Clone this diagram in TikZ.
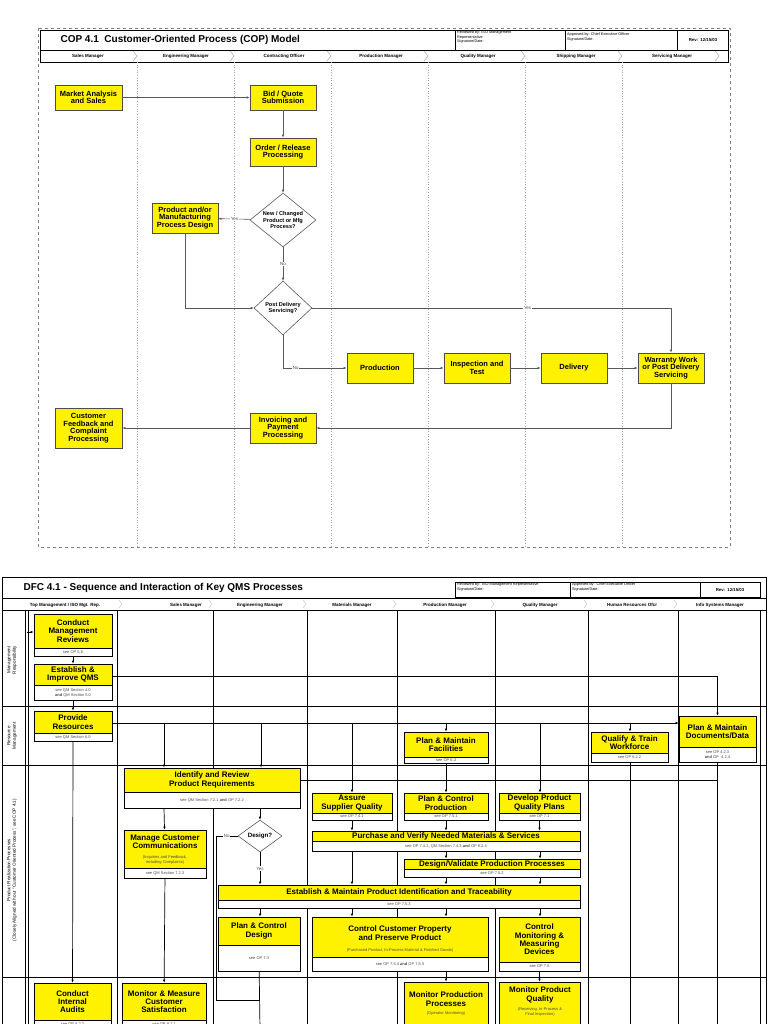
\documentclass[tikz,border=0pt]{standalone}
\usepackage{fontspec}
\setmainfont{Liberation Sans}
\usetikzlibrary{fit,shapes.geometric,arrows.meta}
\tikzset{
 yb/.style={fit={#1},inner sep=0pt,fill=yellow,draw=black,line width=.7pt},
 wb/.style={fit={#1},inner sep=0pt,fill=white,draw=black,line width=.7pt},
 tt/.style={font=\bfseries\fontsize{8}{8.3}\selectfont,align=center,inner sep=0pt},
 ts/.style={font=\fontsize{4}{5}\selectfont,align=center,inner sep=0pt,text=black!70},
 tb/.style={font=\bfseries\fontsize{7.5}{7.6}\selectfont,align=center,inner sep=0pt},
 lab/.style={font=\fontsize{4.5}{5}\selectfont,inner sep=0.6pt,fill=white,text=black!70},
 hd/.style={font=\bfseries\fontsize{4.5}{5}\selectfont,inner sep=0pt},
 arr/.style={-{Latex[length=3pt,width=2.5pt]},line width=.7pt},
 garr/.style={-{Latex[length=3pt,width=2.5pt]},line width=.6pt,draw=black!65},
 lane/.style={line width=.8pt},
 dia/.style={diamond,draw=black!65,fill=white,inner sep=0pt,line width=.6pt},
 cbox/.style={fit={#1},inner sep=0pt,fill=yellow,draw=black!70,line width=.7pt},
}
\newcommand\qb[8]{%
 \node[yb={(#2,#3) (#5,#4)}] (#1) {};
 \node[wb={(#2,#4) (#5,#6)}] (#1s) {};
 \node[tt] at (#1) {#7};
 \node[ts] at (#1s) {#8};}
\begin{document}
\begin{tikzpicture}[x=1pt,y=-1pt]
\path[use as bounding box,fill=white] (0,0) rectangle (768,1024);
% ================= TOP =================
\draw[black!50,dashed,line width=.5pt] (38,28) rectangle (730,547);
\draw[line width=.6pt] (40,30) rectangle (728,62);
\draw[line width=.5pt] (40,50) -- (728,50);
\node[anchor=west,font=\bfseries\fontsize{10}{12}\selectfont] (t1) at (57,40) {COP 4.1\ \ Customer-Oriented Process (COP) Model};
\draw[line width=.5pt] (455,30) rectangle (565,50) (565,30) rectangle (677,50);
\node[anchor=north west,font=\fontsize{3.8}{4.4}\selectfont,align=left,inner sep=0pt] (r1) at (457,31) {Reviewed by: ISO Management\\Representative\\Signature/Date:};
\node[anchor=north west,font=\fontsize{3.8}{4.4}\selectfont,align=left,inner sep=0pt] (r2) at (567,33) {Approved by: Chief Executive Officer\\Signature/Date:};
\node[font=\bfseries\fontsize{4.3}{5}\selectfont] (r3) at (703,40) {Rev:\ \ 12/15/03};
\foreach \x/\t in {88/Sales Manager,186/Engineering Manager,284/Contracting Officer,381/Production Manager,478/Quality Manager,576/Shipping Manager,672/Servicing Manager}
  \node[hd] at (\x,56) {\t};
\foreach \x in {137,234,331,428,525,622,719}{
  \draw[black!40,line width=.4pt] (\x-4,51) -- (\x,56) -- (\x-4,61);
  \node[font=\fontsize{3}{3}\selectfont,text=black!50] at (\x-10,57) {.};}
\foreach \x in {137,234,331,428,525,622}
  \draw[black!35,dotted,line width=.6pt] (\x,62) -- (\x,547);
\node[cbox={(55,85) (122,110)}] (ma) {}; \node[tb] at (ma) {Market Analysis\\and Sales};
\node[cbox={(250,85) (316,110)}] (bid) {}; \node[tb] at (bid) {Bid / Quote\\Submission};
\node[cbox={(250,138) (316,166)}] (ord) {}; \node[tb] at (ord) {Order / Release\\Processing};
\node[cbox={(152,203) (218,233)}] (pd) {}; \node[tb] at (pd) {Product and/or\\Manufacturing\\Process Design};
\node[cbox={(347,353) (413,383)}] (prod) {}; \node[tb] at (prod) {Production};
\node[cbox={(444,353) (510,383)}] (insp) {}; \node[tb] at (insp) {Inspection and\\Test};
\node[cbox={(541,353) (607,383)}] (del) {}; \node[tb] at (del) {Delivery};
\node[cbox={(638,353) (704,383)}] (war) {}; \node[tb] at (war) {Warranty Work\\or Post Delivery\\Servicing};
\node[cbox={(250,413) (316,443)}] (inv) {}; \node[tb] at (inv) {Invoicing and\\Payment\\Processing};
\node[cbox={(55,408) (122,448)}] (cf) {}; \node[tb] at (cf) {Customer\\Feedback and\\Complaint\\Processing};
\node[dia,minimum width=66pt,minimum height=54pt] (d1) at (283,220) {};
\node[font=\bfseries\fontsize{5.6}{6.4}\selectfont,align=center,inner sep=0pt] at (d1) {New / Changed\\Product or Mfg\\Process?};
\node[dia,minimum width=58pt,minimum height=54pt] (d2) at (283,308) {};
\node[font=\bfseries\fontsize{5.6}{6.4}\selectfont,align=center,inner sep=0pt] at (d2) {Post Delivery\\Servicing?};
\draw[garr] (ma) -- (bid);
\draw[garr] (bid) -- (ord);
\draw[garr] (ord) -- (d1);
\draw[garr] (d1) -- node[lab]{Yes} (pd);
\draw[garr] (d1) -- node[lab]{No} (d2);
\draw[garr] (pd.south) |- (d2.west);
\draw[garr] (d2.east) -- node[lab,pos=.6]{Yes} (war.north |- d2.east) -- (war.north);
\draw[garr] (d2.south) |- node[lab,pos=.6]{No} (prod.west);
\draw[garr] (prod) -- (insp);
\draw[garr] (insp) -- (del);
\draw[garr] (del) -- (war);
\draw[garr] (war.south) |- (inv.east);
\draw[garr] (inv) -- (cf);
% ================= BOTTOM =================
\draw[line width=.8pt] (2,577) rectangle (766,1030);
\draw[line width=.6pt] (2,598) -- (766,598);
\node[anchor=west,font=\bfseries\fontsize{10}{12}\selectfont] (t2) at (20,588) {DFC 4.1 - Sequence and Interaction of Key QMS Processes};
\draw[line width=.5pt] (455,582) rectangle (570,597) (570,582) rectangle (700,597) (700,582) rectangle (760,597);
\node[anchor=north west,font=\fontsize{3.8}{4.8}\selectfont,align=left,inner sep=0pt] at (457,583) {Reviewed by:\ \ ISO Management Representative\\Signature/Date:};
\node[anchor=north west,font=\fontsize{3.8}{4.8}\selectfont,align=left,inner sep=0pt] at (572,583) {Approved by:\ \ Chief Executive Officer\\Signature/Date:};
\node[font=\bfseries\fontsize{4.3}{5}\selectfont] at (730,590) {Rev:\ \ 12/15/03};
\foreach \x/\t in {65/{Top Management / ISO Mgt. Rep.},186/Sales Manager,260/Engineering Manager,352/Materials Manager,445/Production Manager,540/Quality Manager,632/Human Resources Ofcr,720/Info Systems Manager}
  \node[hd] at (\x,605) {\t};
\foreach \x in {122,212,306,396,494,587,677}
  \draw[black!25,line width=.4pt] (\x-3,600) -- (\x,604) -- (\x-3,608);
\draw[line width=.8pt] (2,610) -- (766,610);
\foreach \y in {706,765,977} \draw[lane] (2,\y) -- (766,\y);
\draw[lane] (25,610) -- (25,1030);
\draw[lane] (28,610) -- (28,1030);
\foreach \x in {117,213,307,397,495,588,678,760} \draw[lane] (\x,610) -- (\x,1030);
\node[rotate=90,font=\fontsize{4.6}{5.6}\selectfont,align=center] at (12,660) {Management\\Responsibility};
\node[rotate=90,font=\fontsize{4.6}{5.6}\selectfont,align=center] at (12,736) {Resource\\Management};
\node[rotate=90,font=\fontsize{4.6}{5.6}\selectfont,align=center] at (12,870) {Product Realization Processes\\(Closely Aligned with our ``Customer Oriented Process'', see COP 4.1)};
% boxes
\qb{cmr}{34}{614}{648}{112}{656}{Conduct\\Management\\Reviews}{see OP 5.6}
\qb{emq}{34}{664}{685}{112}{700}{Establish \&\\Improve QMS}{see QM Section 4.0\\\textbf{and} QM Section 5.0}
\qb{pr}{34}{711}{733}{112}{741}{Provide\\Resources}{see QM Section 6.0}
\qb{irp}{124}{768}{792}{300}{808}{Identify and Review\\Product Requirements}{see QM Section 7.2.1 \textbf{and} OP 7.2.2}
\node[yb={(124,830) (206,868)}] (mcc) {};
\node[wb={(124,868) (206,878)}] (mccs) {};
\node[tt] at (165,842) {Manage Customer\\Communications};
\node[ts] at (165,860) {(Inquiries and Feedback,\\including Complaints)};
\node[ts] at (mccs) {see QM Section 7.2.3};
\node[dia,minimum width=44pt,minimum height=32pt] (des) at (260,836) {};
\node[font=\bfseries\fontsize{6.2}{7}\selectfont,inner sep=0pt] at (des) {Design?};
\qb{emp}{218}{885}{900}{580}{908}{Establish \& Maintain Product Identification and Traceability}{see OP 7.5.3}
\qb{pcd}{218}{917}{945}{300}{971}{Plan \& Control\\Design}{see OP 7.3}
\qb{asq}{312}{793}{813}{392}{820}{Assure\\Supplier Quality}{see OP 7.4.1}
\qb{pcp}{404}{793}{813}{488}{820}{Plan \& Control\\Production}{see OP 7.5.1}
\qb{dpq}{499}{793}{813}{580}{820}{Develop Product\\Quality Plans}{see OP 7.1}
\qb{pvm}{312}{831}{841}{580}{851}{Purchase and Verify Needed Materials \& Services}{see OP 7.4.2, QM Section 7.4.3 \textbf{and} OP 8.2.4}
\qb{dvp}{404}{859}{869}{580}{877}{Design/Validate Production Processes}{see OP 7.5.2}
\qb{pmf}{404}{732}{757}{488}{763}{Plan \& Maintain\\Facilities}{see OP 6.3}
\qb{qtw}{591}{732}{753}{668}{762}{Qualify \& Train\\Workforce}{see OP 6.2.2}
\qb{pmd}{679}{716}{747}{756}{762}{Plan \& Maintain\\Documents/Data}{see OP 4.2.3\\\textbf{and} OP\ \ 4.2.4}
\node[yb={(312,917) (488,957)}] (ccp) {};
\node[wb={(312,957) (488,971)}] (ccps) {};
\node[tt] at (400,933) {Control Customer Property\\and Preserve Product};
\node[ts] at (400,950) {(Purchased Product, In-Process Material \& Finished Goods)};
\node[ts] at (ccps) {see OP 7.5.4 \textbf{and} OP 7.5.5};
\qb{cmd}{499}{917}{962}{580}{971}{Control\\Monitoring \&\\Measuring\\Devices}{see OP 7.6}
\qb{cia}{34}{983}{1020}{111}{1028}{Conduct\\Internal\\Audits}{see OP 8.2.2}
\qb{mms}{122}{983}{1020}{206}{1028}{Monitor \& Measure\\Customer\\Satisfaction}{see OP 8.2.1}
\node[yb={(404,982) (488,1030)}] (mpp) {};
\node[tt] at (446,999) {Monitor Production\\Processes};
\node[ts] at (446,1013) {(Operator Monitoring)};
\node[yb={(499,982) (580,1030)}] (mpq) {};
\node[tt] at (540,995) {Monitor Product\\Quality};
\node[ts] at (540,1012) {(Receiving, In-Process \&\\Final Inspection)};
% connectors
\coordinate (fb) at (27,632);
\draw[arr] (fb) -- (cmr.west |- fb);
\draw[arr] (cmrs) -- (emq);
\draw[arr] (emqs) -- (pr);
\draw[arr] (emq.east |- 0,676) -| (pmd.north);
\draw[arr] (pr.east |- 0,723) -- (pmd.west |- 0,723);
\foreach \x/\n in {164/irp,261/irp,352/asq,446/pmf,540/dpq,630/qtw}
  \draw[arr] (\x,723) -- (\n.north -| \x,0);
\draw[arr] (prs) -- (cia);
\draw[arr] (irps.south -| 164,0) -- (mcc);
\draw[arr] (irps.south -| 260,0) -- (des);
\draw[arr] (des) -- node[lab]{Yes} (emp.north -| des);
\draw[line width=.7pt] (des.west) -- node[lab]{No} (216,836) |- (260,1000);
\draw[arr] (mccs) -- (mms);
\draw[arr] (pmfs) -- (pcp);
\foreach \n in {asq,pcp,dpq} \draw[arr] (\n s) -- (pvm.north -| \n s);
\foreach \x in {446,540} {\draw[arr] (pvms.south -| \x,0) -- (dvp.north -| \x,0);
  \draw[arr] (dvps.south -| \x,0) -- (emp.north -| \x,0);}
\draw[arr] (pvms.south -| 352,0) -- (emp.north -| 352,0);
\draw[arr] (emps.south -| 260,0) -- (pcd.north -| 260,0);
\draw[arr] (emps.south -| 352,0) -- (ccp.north -| 352,0);
\draw[arr] (emps.south -| 446,0) -- (ccp.north -| 446,0);
\draw[arr] (emps.south -| 540,0) -- (cmd.north -| 540,0);
\draw[arr] (ccps.south -| 446,0) -- (mpp.north -| 446,0);
\draw[arr] (cmds) -- (mpq);
\draw[line width=.7pt] (pcds) -- (260,1030);
\draw[line width=.7pt] (qtws.south -| 630,0) -- (630,1030);
\draw[line width=.7pt] (pmds.south -| 717,0) -- (717,1030);
\draw[line width=.7pt] (irp.east |- 0,780) -- (717,780);
\end{tikzpicture}
\end{document}
